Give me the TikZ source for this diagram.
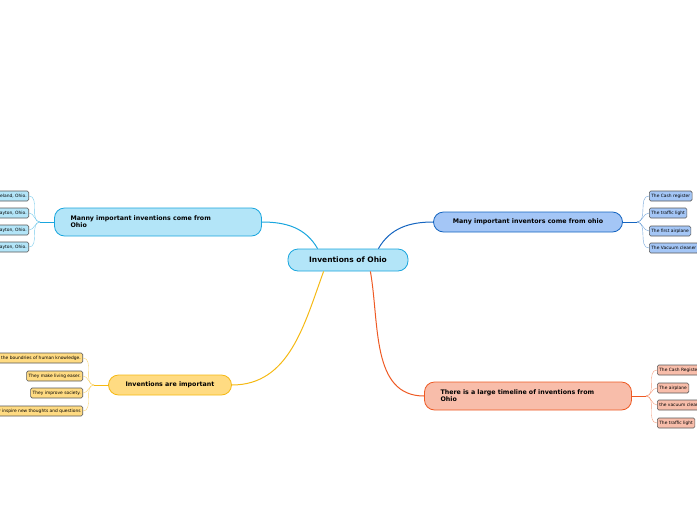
\documentclass[tikz,border=0pt]{standalone}
\usepackage{fontspec}
\setmainfont{DejaVu Sans}
\begin{document}
\begin{tikzpicture}[x=1pt,y=-1pt,
 leaf/.style={draw=gray!70!black,fill=#1,rounded corners=1.5pt,line width=0.6pt,font=\fontsize{4.4}{5}\selectfont,inner sep=2pt,minimum height=10pt},
 con/.style={line width=1pt,#1},
 sub/.style={line width=0.4pt,#1}]
\useasboundingbox (0,0) rectangle (697,520);
\clip (0,0) rectangle (697,520);
\definecolor{cb}{HTML}{B3E5F8}\definecolor{cbd}{HTML}{1AA6DE}
\definecolor{bb}{HTML}{A4C6F6}\definecolor{bbd}{HTML}{1565C0}
\definecolor{yb}{HTML}{FFDB82}\definecolor{ybd}{HTML}{F5B914}
\definecolor{rb}{HTML}{F8BDAA}\definecolor{rbd}{HTML}{EE5A24}
\tikzset{mn/.style={draw=#1,line width=0.8pt,rounded corners=10pt,align=left,font=\fontsize{6.3}{7}\selectfont\bfseries,inner sep=3pt}}
\node[mn=cbd,fill=cb,minimum width=120pt,minimum height=22pt,font=\fontsize{7.5}{8}\selectfont\bfseries,align=center] (c) at (348,260) {Inventions of Ohio};
\node[mn=cbd,fill=cb,minimum width=207pt,minimum height=28pt,text width=175pt,inner xsep=16pt] (a) at (158,222) {Manny important inventions come from\\Ohio};
\node[mn=bbd,fill=bb,minimum width=189pt,minimum height=20pt,align=center] (b) at (528,222) {Many important inventors come from ohio};
\node[mn=ybd,fill=yb,minimum width=123pt,minimum height=20pt,align=center] (d) at (170,385) {Inventions are important};
\node[mn=rbd,fill=rb,minimum width=207pt,minimum height=28pt,text width=175pt,inner xsep=16pt] (e) at (528,396) {There is a large timeline of inventions from\\Ohio};
\draw[con=cbd] (c.north west)++(30,0) coordinate (c1) to[out=120,in=0] (a.east);
\draw[con=bbd] (c.north east)++(-30,0) coordinate (c2) to[out=60,in=180] (b.west);
\draw[con=ybd] (c.south west)++(36,0) coordinate (c3) to[out=-110,in=0] (d.east);
\draw[con=rbd] (c.south east)++(-38,0) coordinate (c4) to[out=-80,in=180] (e.west);
\foreach \t/\y [count=\i] in {{Cleveland, Ohio.}/196,{Dayton, Ohio.}/213,{Dayton, Ohio.}/230,{Dayton, Ohio.}/247}{
 \node[leaf=cb,anchor=east] (la\i) at (29,\y) {\t};
 \draw[sub=cbd!60] (a.west)++(-14,0) to[out=180,in=0] (la\i.east);}
\draw[con=cbd] (a.west) -- ++(-14,0);
\foreach \t/\y [count=\i] in {{The Cash register}/196,{The traffic light}/213,{The first airplane}/231,{The Vacuum cleaner}/248}{
 \node[leaf=bb,anchor=west] (lb\i) at (649,\y) {\t};
 \draw[sub=bbd!60] (b.east)++(14,0) to[out=0,in=180] (lb\i.west);}
\draw[con=bbd] (b.east) -- ++(14,0);
\foreach \t/\y [count=\i] in {{Inventions expand the boundries of human knowledge.}/358,{They make living easer.}/376,{They improve society.}/393,{They inspire new thoughts and questions}/411}{
 \node[leaf=yb,anchor=east] (ld\i) at (83,\y) {\t};
 \draw[sub=ybd!60] (d.west)++(-14,0) to[out=180,in=0] (ld\i.east);}
\draw[con=ybd] (d.west) -- ++(-14,0);
\foreach \t/\y [count=\i] in {{The Cash Register}/370,{The airplane}/388,{the vacuum cleaner}/405,{The traffic light}/423}{
 \node[leaf=rb,anchor=west] (le\i) at (657,\y) {\t};
 \draw[sub=rbd!60] (e.east)++(14,0) to[out=0,in=180] (le\i.west);}
\draw[con=rbd] (e.east) -- ++(14,0);
\end{tikzpicture}
\end{document}
